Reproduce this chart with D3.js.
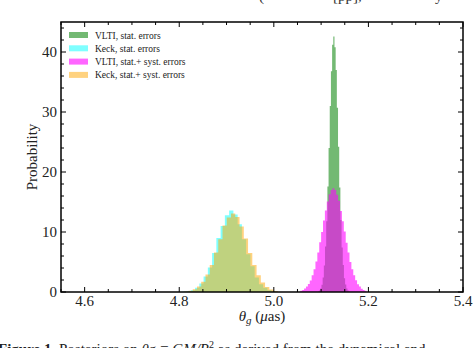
<!DOCTYPE html>
<html><head><meta charset="utf-8">
<script src="https://cdn.jsdelivr.net/npm/d3@7"></script>
<style>body{margin:0;background:#fff}svg{display:block}text{font-family:"Liberation Serif","Times New Roman",serif}</style>
</head><body>
<svg id="c" width="474" height="348"></svg>
<script>
// ---- data ----
const seriesNames = ["VLTI, stat. errors","Keck, stat. errors","VLTI, stat.+ syst. errors","Keck, stat.+ syst. errors"];
// histogram binning: first bin edge and bin width (in μas)
const vltiStatBins = {start: 5.09325, width: 0.0025};
const keckStatBins = {start: 4.8065, width: 0.009};
const vltiSystBins = {start: 5.056, width: 0.004};
const keckSystBins = {start: 4.8105, width: 0.009};
const vltiStat = [0.1,0.26,0.6,1.2,2.4,4.4,7.6,11.8,17.6,24.0,31.0,36.8,41.2,42.6,40.8,37.0,30.7,24.2,17.4,12.0,7.4,4.5,2.3,1.25,0.58,0.25,0.1];
const keckStat = [0.05,0.12,0.3,0.7,1.4,2.6,4.1,6.5,9.0,11.0,12.8,13.6,12.9,11.3,8.8,6.3,4.3,2.4,1.3,0.7,0.3,0.1];
const vltiSyst = [0.2,0.35,0.6,0.9,1.35,1.9,2.8,3.8,5.1,6.6,8.3,10.0,11.9,13.6,15.1,16.3,17.0,17.3,17.0,16.2,15.2,13.5,11.8,10.1,8.2,6.6,5.0,3.8,2.8,1.95,1.3,0.9,0.55,0.35,0.2];
const keckSyst = [0.08,0.2,0.45,0.9,1.7,2.9,4.5,6.6,8.8,11.1,12.4,13.1,12.5,10.9,8.9,6.5,4.5,2.8,1.6,0.85,0.4,0.18];
const xTicks = [4.6,4.8,5.0,5.2,5.4];
const xTickLabels = ["4.6","4.8","5.0","5.2","5.4"];
const yTicks = [0,10,20,30,40];
const yTickLabels = ["0","10","20","30","40"];

// ---- layout ----
const svg = d3.select("#c");
const L=61, R=463, T=22, B=292;
const x = d3.scaleLinear().domain([4.55,5.4]).range([L,R]);
const y = d3.scaleLinear().domain([0,45]).range([B,T]);

const colors = ["green","cyan","magenta","orange"];
const alphas = [0.55,0.5,0.6,0.5];
const hists = [[vltiStat,vltiStatBins],[keckStat,keckStatBins],[vltiSyst,vltiSystBins],[keckSyst,keckSystBins]];

const area = d3.area().x(d=>x(d[0])).y0(y(0)).y1(d=>y(d[1]));
svg.append("clipPath").attr("id","pc").append("rect").attr("x",L).attr("y",T).attr("width",R-L).attr("height",B-T);
const g = svg.append("g").attr("clip-path","url(#pc)");
hists.forEach(([vals,bins],i)=>{
  const pts=[[bins.start,0]];
  vals.forEach((v,k)=>{const e0=bins.start+k*bins.width, e1=e0+bins.width; pts.push([e0,v],[e1,v]);});
  pts.push([bins.start+vals.length*bins.width,0]);
  g.append("path").attr("d",area(pts)).attr("fill",colors[i]).attr("fill-opacity",alphas[i]);
});

// ---- axes (ticks inward on all sides) ----
const xMinor = d3.range(4.55,5.401,0.05).filter(v=>!xTicks.some(t=>Math.abs(t-v)<1e-6));
const yMinor = d3.range(0,45.01,2).filter(v=>v%10!==0);
function tickLines(vals,len,horiz){
  vals.forEach(v=>{
    if(horiz){
      const px=x(v);
      svg.append("line").attr("x1",px).attr("x2",px).attr("y1",B).attr("y2",B-len).attr("stroke","#000").attr("stroke-width",1);
      svg.append("line").attr("x1",px).attr("x2",px).attr("y1",T).attr("y2",T+len).attr("stroke","#000").attr("stroke-width",1);
    } else {
      const py=y(v);
      svg.append("line").attr("y1",py).attr("y2",py).attr("x1",L).attr("x2",L+len).attr("stroke","#000").attr("stroke-width",1);
      svg.append("line").attr("y1",py).attr("y2",py).attr("x1",R).attr("x2",R-len).attr("stroke","#000").attr("stroke-width",1);
    }
  });
}
tickLines(xTicks,5,true); tickLines(xMinor,3,true);
tickLines(yTicks,5,false); tickLines(yMinor,3,false);

svg.append("rect").attr("x",L).attr("y",T).attr("width",R-L).attr("height",B-T).attr("fill","none").attr("stroke","#000").attr("stroke-width",1.5);

xTicks.forEach((v,i)=>svg.append("text").attr("x",x(v)).attr("y",306).attr("text-anchor","middle").attr("font-size",15).attr("fill","#222").text(xTickLabels[i]));
yTicks.forEach((v,i)=>svg.append("text").attr("x",57).attr("y",y(v)+5).attr("text-anchor","end").attr("font-size",15).attr("fill","#222").text(yTickLabels[i]));

// axis labels
svg.append("text").attr("transform","translate(37,157) rotate(-90)").attr("text-anchor","middle").attr("font-size",15).attr("fill","#222").text("Probability");
const xl = svg.append("text").attr("x",262).attr("y",321).attr("text-anchor","middle").attr("font-size",15).attr("fill","#222");
xl.append("tspan").attr("font-style","italic").text("θ");
xl.append("tspan").attr("font-style","italic").attr("font-size",11).attr("dy",3).text("g");
xl.append("tspan").attr("dy",-3).text(" (");
xl.append("tspan").attr("font-style","italic").text("μ");
xl.append("tspan").text("as)");

// legend
const lg = svg.append("g");
seriesNames.forEach((n,i)=>{
  const yy = 35 + i*13.3;
  lg.append("rect").attr("x",69).attr("y",yy-3).attr("width",19).attr("height",6).attr("fill",colors[i]).attr("fill-opacity",alphas[i]);
  lg.append("text").attr("x",95).attr("y",yy+3.5).attr("font-size",9.5).attr("fill","#222").text(n);
});

// cut-off caption text at top and bottom of the figure
const topLine = [["(",259],["[pp],",333],["y",435]];
topLine.forEach(([t,px])=>svg.append("text").attr("x",px).attr("y",1).attr("font-size",15).attr("fill","#333").text(t));
const cap = svg.append("text").attr("x",-2).attr("y",354).attr("font-size",15).attr("fill","#222");
cap.append("tspan").attr("font-weight","bold").text("Figure 1.");
cap.append("tspan").text(" Posteriors on ");
cap.append("tspan").attr("font-style","italic").text("θ");
cap.append("tspan").text("g ≡ ");
cap.append("tspan").attr("font-style","italic").text("GM/R");
cap.append("tspan").attr("font-size",10).attr("dy",-6).text("2");
cap.append("tspan").attr("dy",6).text("  as derived from the dynamical and");
</script>
</body></html>
